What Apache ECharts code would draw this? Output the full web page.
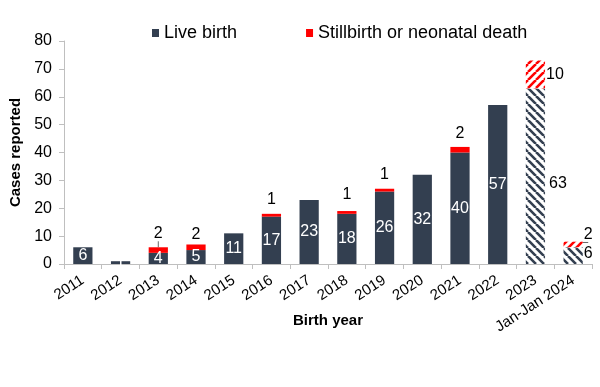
<!DOCTYPE html>
<html><head><meta charset="utf-8">
<script src="https://cdn.jsdelivr.net/npm/echarts@6/dist/echarts.min.js"></script>
<style>html,body{margin:0;padding:0;background:#fff}#c{width:600px;height:387px}</style>
</head><body><div id="c"></div>
<script>
const categories = ['2011','2012','2013','2014','2015','2016','2017','2018','2019','2020','2021','2022','2023','Jan-Jan 2024'];
const liveBirth = [6,1,4,5,11,17,23,18,26,32,40,57,63,6];
const stillbirth = [0,0,2,2,0,1,0,1,1,0,2,0,10,2];
const yTicks = [0,10,20,30,40,50,60,70,80];

const FONT = 'Liberation Sans, Arial, sans-serif';
const NAVY = '#333f50', RED = '#ff0000';
function stripe(col, dir){
  const s = 8, c = document.createElement('canvas');
  c.width = s; c.height = s;
  const g = c.getContext('2d');
  g.fillStyle = '#fff'; g.fillRect(0,0,s,s);
  g.strokeStyle = col; g.lineWidth = 2.6;
  g.beginPath();
  for (let k=-1;k<=1;k++){
    if (dir>0){ g.moveTo(k*s, 0); g.lineTo(k*s+s, s); }
    else { g.moveTo(k*s+s, 0); g.lineTo(k*s, s); }
  }
  g.stroke();
  return {image:c, repeat:'repeat'};
}
const navyHatch = stripe(NAVY, 1), redHatch = stripe(RED, -1);
const hatched = new Set([12,13]);
const stillDist = {2:1,3:2,5:6,7:8,8:6.5,10:5};
const leaderShift = {2:-5, 13:-10};

const liveData = liveBirth.map((v,i)=>{
  const o = {value:v};
  if (hatched.has(i)) {
    o.itemStyle = {color: navyHatch};
    o.label = {position:'right', color:'#000', distance: i===12?4:1, offset: i===12?[0,7]:[0,-2]};
  }
  return o;
});
const stillData = stillbirth.map((v,i)=>{
  const o = {value:v};
  if (hatched.has(i)) {
    o.itemStyle = {color: redHatch};
    o.label = {position:'right', distance: i===12?1:1};
  } else if (stillDist[i] !== undefined) {
    o.label = {distance: stillDist[i]};
  }
  if (leaderShift[i] !== undefined) {
    o.labelLine = {show:true};
  }
  return o;
});

const chart = echarts.init(document.getElementById('c'));
chart.setOption({
  animation:false,
  textStyle:{fontFamily:FONT},
  legend:{
    top:19, left:147, itemWidth:7, itemHeight:8, itemGap:69,
    icon:'rect',
    textStyle:{fontSize:18, color:'#000', fontFamily:FONT},
    data:['Live birth','Stillbirth or neonatal death']
  },
  grid:{left:63, right:8, top:41, bottom:123},
  xAxis:{
    type:'category', data:categories,
    name:'Birth year', nameLocation:'middle', nameGap:49, nameMoveOverlap:false,
    nameTextStyle:{fontSize:15, fontWeight:'bold', color:'#000', fontFamily:FONT},
    axisLine:{lineStyle:{color:'#bfbfbf'}},
    axisTick:{show:true, length:5, lineStyle:{color:'#bfbfbf'}},
    axisLabel:{rotate:33, fontSize:15, color:'#000', margin:15, fontFamily:FONT}
  },
  yAxis:{
    type:'value', min:yTicks[0], max:yTicks[yTicks.length-1], interval:10,
    name:'Cases reported', nameLocation:'middle', nameGap:41, nameMoveOverlap:false,
    nameTextStyle:{fontSize:15, fontWeight:'bold', color:'#000', fontFamily:FONT},
    axisLine:{show:true, lineStyle:{color:'#bfbfbf'}},
    axisTick:{show:true, length:5, lineStyle:{color:'#bfbfbf'}},
    splitLine:{show:false},
    axisLabel:{fontSize:16, color:'#000', margin:12, fontFamily:FONT}
  },
  series:[
    {name:'Live birth', type:'bar', stack:'a', data:liveData, barCategoryGap:'49%',
     itemStyle:{color:NAVY},
     label:{show:true, position:'inside', color:'#fff', fontSize:16, fontFamily:FONT}},
    {name:'Stillbirth or neonatal death', type:'bar', stack:'a', data:stillData,
     itemStyle:{color:RED},
     label:{show:true, position:'top', color:'#000', fontSize:16, fontFamily:FONT,
       formatter:p=>p.value? String(p.value):''},
     labelLine:{show:false, lineStyle:{color:'#404040', width:0.8}},
     labelLayout:function(p){
       const d = leaderShift[p.dataIndex];
       return d !== undefined ? {dy:d} : {};
     }}
  ]
});
</script></body></html>
